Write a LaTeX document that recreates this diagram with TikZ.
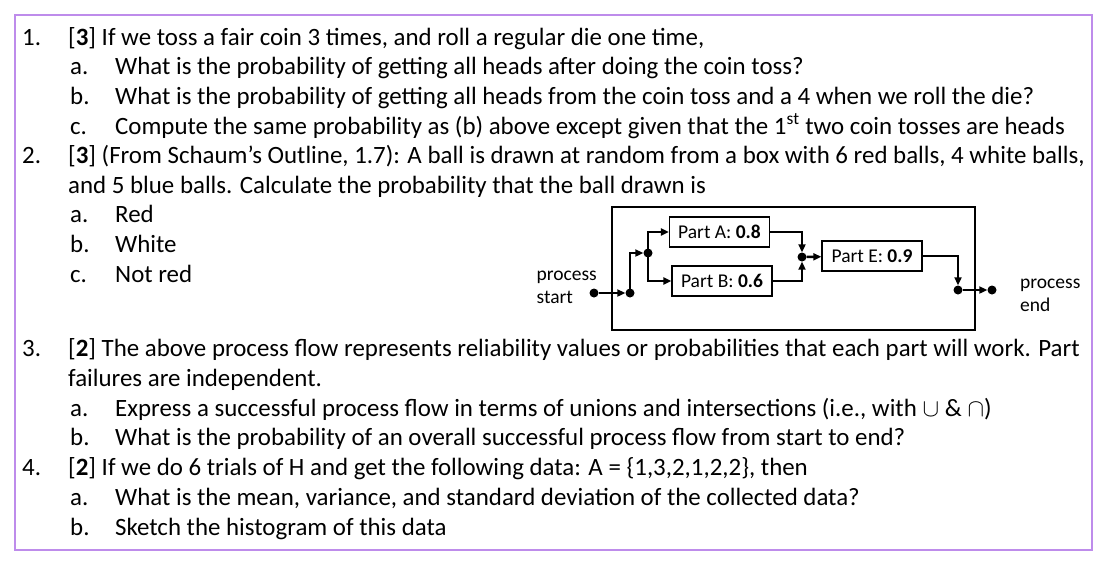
\documentclass[tikz,border=0pt]{standalone}
\usepackage{fontspec}
\setmainfont{Carlito}
\usetikzlibrary{arrows.meta}
\definecolor{frm}{RGB}{190,140,235}
\begin{document}
\begin{tikzpicture}[x=1pt,y=-1pt,
  txt/.style={anchor=base west,inner sep=0pt,font=\fontsize{24.9}{28}\selectfont},
  dg/.style={font=\fontsize{19.5}{23}\selectfont},
  part/.style={draw,line width=1.3pt,minimum width=100pt,minimum height=30pt,inner sep=0pt,dg},
  ln/.style={line width=2.6pt},
  ar/.style={ln,-{Triangle[length=8pt,width=7pt]}},
  dot/.style={circle,fill,inner sep=0pt,minimum size=9pt}]
\useasboundingbox (0,0) rectangle (1106,571);
\draw[frm,line width=1.3pt] (15,15) rectangle (1092,550);
% text
\def\L#1#2#3{\node[txt] at (22,#1) {#2};\node[txt] at (68,#1) {#3};}
\def\S#1#2#3{\node[txt] at (70,#1) {#2};\node[txt] at (115,#1) {#3};}
\L{45}{1.}{[\textbf{3}] If we toss a fair coin 3 times, and roll a regular die one time,}
\S{74}{a.}{What is the probability of getting all heads after doing the coin toss?}
\S{104}{b.}{What is the probability of getting all heads from the coin toss and a 4 when we roll the die?}
\S{134}{c.}{Compute the same probability as (b) above except given that the 1\textsuperscript{st} two coin tosses are heads}
\L{163}{2.}{[\textbf{3}] (From Schaum’s Outline, 1.7): A ball is drawn at random from a box with 6 red balls, 4 white balls,}
\node[txt] at (68,193) {and 5 blue balls. Calculate the probability that the ball drawn is};
\S{222}{a.}{Red}
\S{252}{b.}{White}
\S{282}{c.}{Not red}
\L{356}{3.}{[\textbf{2}] The above process flow represents reliability values or probabilities that each part will work. Part}
\node[txt] at (68,386) {failures are independent.};
\S{416}{a.}{Express a successful process flow in terms of unions and intersections (i.e., with $\cup$ \& $\cap$)}
\S{445}{b.}{What is the probability of an overall successful process flow from start to end?}
\L{475}{4.}{[\textbf{2}] If we do 6 trials of H and get the following data: A = \{1,3,2,1,2,2\}, then}
\S{505}{a.}{What is the mean, variance, and standard deviation of the collected data?}
\S{535}{b.}{Sketch the histogram of this data}
% diagram
\draw[line width=2.2pt] (612,207) rectangle (975,330);
\node[part] (A) at (719.5,232) {Part A: \textbf{0.8}};
\node[part] (B) at (722,281) {Part B: \textbf{0.6}};
\node[part] (E) at (872,256) {Part E: \textbf{0.9}};
\node[dot] (s) at (594,293) {};
\node[dot] (j1) at (630,293) {};
\node[dot] (j2) at (648,253) {};
\node[dot] (j3) at (802,257) {};
\node[dot] (j4) at (958,290) {};
\node[dot] (e) at (992,290) {};
\node[dg,anchor=east,align=left,inner sep=0pt] at (597,287) {process\\start};
\node[dg,anchor=west,align=left,inner sep=0pt] at (1020,295) {process\\end};
\draw[ar] (s) -- (j1);
\draw[ar] (j1.center) |- (j2);
\draw[ar] (j2.center) |- (A);
\draw[ar] (j2.center) |- (B);
\draw[ar] (A) -| (j3);
\draw[ar] (B) -| (j3);
\draw[ar] (j3) -- (E);
\draw[ar] (E) -| (j4);
\draw[ar] (j4) -- (e);
\end{tikzpicture}
\end{document}
